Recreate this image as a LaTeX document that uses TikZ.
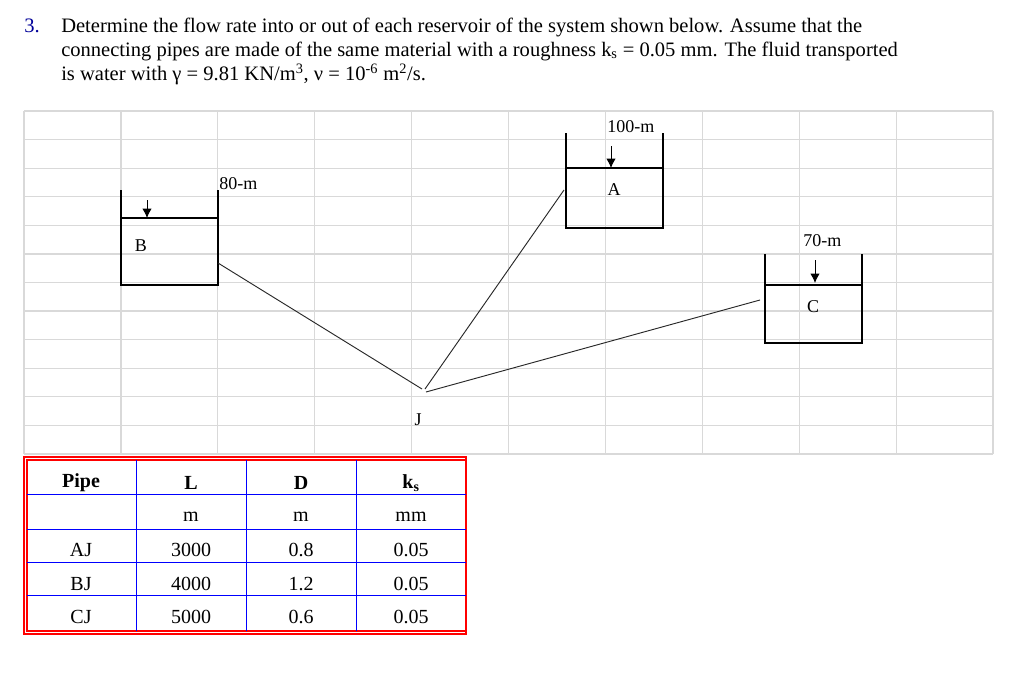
\documentclass[tikz,border=0pt]{standalone}
\usepackage{fontspec}
\setmainfont{Liberation Serif}
\usetikzlibrary{arrows.meta}
\begin{document}
\begin{tikzpicture}[x=0.75pt,y=-0.75pt,
  hdr/.style={anchor=base west,font=\fontsize{15.4}{17}\selectfont,inner sep=0},
  lbl/.style={font=\fontsize{13.5}{15}\selectfont,inner sep=0},
  tbl/.style={font=\fontsize{15}{17}\selectfont,inner sep=0},
  tbh/.style={font=\fontsize{15}{17}\selectfont\bfseries,inner sep=0},
  grid/.style={draw={rgb,255:red,217;green,217;blue,217},line width=0.9pt},
  tank/.style={draw=black,line width=0.8pt},
  pipe/.style={draw={rgb,255:red,40;green,40;blue,40},line width=0.7pt},
  lvl/.style={-{Latex[length=7pt,width=7pt]},line width=0.7pt}]
\useasboundingbox (0,0) rectangle (1021,678);
\fill[white] (0,0) rectangle (1021,678);
% header
\node[hdr,text=blue!60!black] (num) at (24,32) {3.};
\node[hdr] (h1) at (61,32) {Determine the flow rate into or out of each reservoir of the system shown below. Assume that the};
\node[hdr] (h2) at (61,56) {connecting pipes are made of the same material with a roughness k\textsubscript{s} = 0.05 mm. The fluid transported};
\node[hdr] (h3) at (61,80) {is water with γ = 9.81 KN/m\textsuperscript{3}, ν = 10\textsuperscript{-6} m\textsuperscript{2}/s.};
% grid
\foreach \i in {0,...,10} \draw[grid] (24+96.9*\i,111) -- (24+96.9*\i,454);
\foreach \j in {0,...,12} \draw[grid] (24,111+28.58*\j) -- (993,111+28.58*\j);
% tank B
\draw[tank] (121,190) -- (121,285) -- (218,285) -- (218,190);
\draw[tank] (121,218) -- (218,218);
\coordinate (bt) at (147,200); \coordinate (bw) at (147,218);
\draw[lvl] (bt) -- (bw);
\node[lbl] (B) at (141,246) {B};
\node[lbl,anchor=west] (hB) at (219,184) {80-m};
% tank A
\draw[tank] (566,133) -- (566,228) -- (663,228) -- (663,133);
\draw[tank] (566,168) -- (663,168);
\coordinate (at) at (611,146); \coordinate (aw) at (611,168);
\draw[lvl] (at) -- (aw);
\node[lbl] (A) at (614,190) {A};
\node[lbl,anchor=west] (hA) at (607,127) {100-m};
% tank C
\draw[tank] (765,254) -- (765,343) -- (862,343) -- (862,254);
\draw[tank] (765,285) -- (862,285);
\coordinate (ct) at (815,260); \coordinate (cw) at (815,283);
\draw[lvl] (ct) -- (cw);
\node[lbl] (C) at (813,307) {C};
\node[lbl,anchor=west] (hC) at (803,241) {70-m};
% pipes
\coordinate (pB) at (218,263); \coordinate (jB) at (422,389);
\coordinate (pA) at (564,190); \coordinate (jA) at (425,389);
\coordinate (pC) at (760,300); \coordinate (jC) at (426,392);
\draw[pipe] (pB) -- (jB);
\draw[pipe] (jA) -- (pA);
\draw[pipe] (jC) -- (pC);
\node[lbl] (J) at (418,420) {J};
% table
\draw[red,line width=0.8pt] (24,457) rectangle (466,634);
\draw[red,line width=0.8pt] (27,460) rectangle (466,631);
\foreach \y in {494,529,562,595} \draw[blue,line width=0.7pt] (27,\y) -- (466,\y);
\foreach \x in {136,246,356} \draw[blue,line width=0.7pt] (\x,460) -- (\x,631);
\node[tbh] (t1) at (81,483) {Pipe};
\node[tbh] (t2) at (191,483) {L};
\node[tbh] (t3) at (301,483) {D};
\node[tbh] (t4) at (411,483) {k\textsubscript{s}};
\node[tbl] (u2) at (191,517) {m};
\node[tbl] (u3) at (301,517) {m};
\node[tbl] (u4) at (411,517) {mm};
\node[tbl] (r1) at (81,550) {AJ};
\node[tbl] (r2) at (191,550) {3000};
\node[tbl] (r3) at (301,550) {0.8};
\node[tbl] (r4) at (411,550) {0.05};
\node[tbl] (s1) at (81,584) {BJ};
\node[tbl] (s2) at (191,584) {4000};
\node[tbl] (s3) at (301,584) {1.2};
\node[tbl] (s4) at (411,584) {0.05};
\node[tbl] (q1) at (81,617) {CJ};
\node[tbl] (q2) at (191,617) {5000};
\node[tbl] (q3) at (301,617) {0.6};
\node[tbl] (q4) at (411,617) {0.05};
\end{tikzpicture}
\end{document}
